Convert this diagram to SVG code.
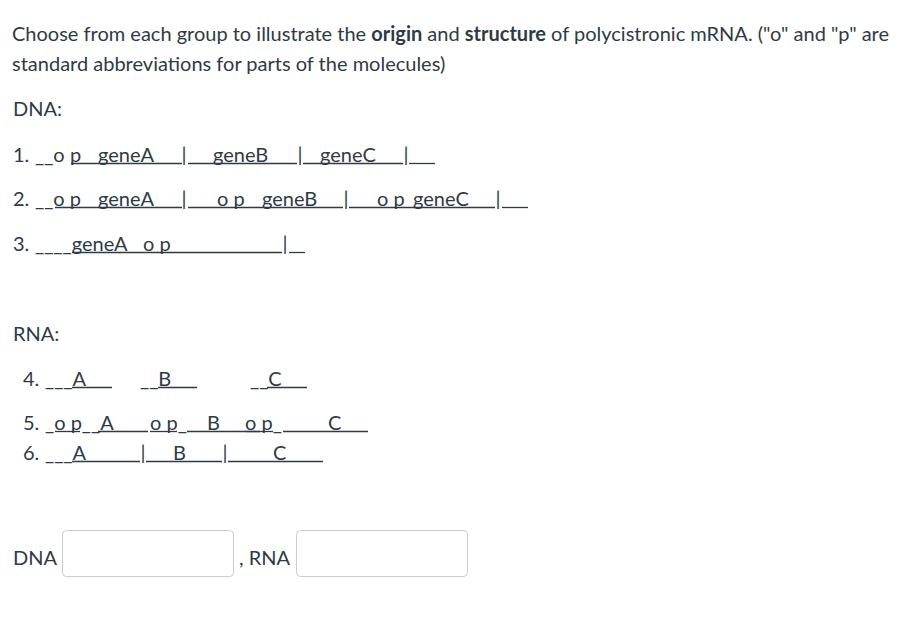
<svg xmlns="http://www.w3.org/2000/svg" width="911" height="623" viewBox="0 0 911 623">
<style>
text{font-family:Lato,"Liberation Sans",sans-serif;font-size:20px;fill:#2d3b45}
.b{font-weight:bold}
.bar{text-anchor:middle}
.ul line{stroke:#2d3b45;stroke-width:1.3}
.box{fill:#fff;stroke:#c7cdd1;stroke-width:1}
</style>
<rect width="911" height="623" fill="#fff"/>
<g id="instructions">
<text x="12" y="41">Choose from each group to illustrate the <tspan class="b">origin</tspan> and <tspan class="b">structure</tspan> of polycistronic mRNA. ("o" and "p" are</text>
<text x="12" y="71">standard abbreviations for parts of the molecules)</text>
</g>
<g id="dna-heading"><text x="13" y="116">DNA:</text></g>
<g id="dna-1">
<text x="13" y="162">1.</text><text x="35" y="162">__o</text><text x="70" y="162">p</text><text x="98" y="162">geneA</text>
<text class="bar" x="184" y="162">|</text><text x="213" y="162">geneB</text>
<text class="bar" x="300" y="162">|</text><text x="320" y="162">geneC</text>
<text class="bar" x="406" y="162">|</text>
<g class="ul"><line x1="71" y1="163.5" x2="182" y2="163.5"/><line x1="188" y1="163.5" x2="297" y2="163.5"/><line x1="303" y1="163.5" x2="403" y2="163.5"/><line x1="409" y1="163.5" x2="435" y2="163.5"/></g>
</g>
<g id="dna-2">
<text x="13" y="206">2.</text><text x="35" y="206">__o p</text><text x="98" y="206">geneA</text>
<text class="bar" x="184" y="206">|</text><text x="217" y="206">o p</text><text x="262" y="206">geneB</text>
<text class="bar" x="346" y="206">|</text><text x="377" y="206">o p</text><text x="413" y="206">geneC</text>
<text class="bar" x="498" y="206">|</text>
<g class="ul"><line x1="55" y1="207.5" x2="182" y2="207.5"/><line x1="188" y1="207.5" x2="343" y2="207.5"/><line x1="349" y1="207.5" x2="495" y2="207.5"/><line x1="502" y1="207.5" x2="528" y2="207.5"/></g>
</g>
<g id="dna-3">
<text x="13" y="251">3.</text><text x="35" y="251">____geneA</text><text x="143" y="251">o p</text>
<text class="bar" x="285" y="251">|</text>
<g class="ul"><line x1="72" y1="252.5" x2="282" y2="252.5"/><line x1="289" y1="252.5" x2="305" y2="252.5"/></g>
</g>
<g id="rna-heading"><text x="13" y="341">RNA:</text></g>
<g id="rna-4">
<text x="23" y="386">4.</text><text x="45" y="386">___A</text><text x="140" y="386">__B</text><text x="250" y="386">__C</text>
<g class="ul"><line x1="72" y1="387.5" x2="112" y2="387.5"/><line x1="158" y1="387.5" x2="197" y2="387.5"/><line x1="267" y1="387.5" x2="307" y2="387.5"/></g>
</g>
<g id="rna-5">
<text x="23" y="430">5.</text><text x="45" y="430">_o p__A</text><text x="150" y="430">o p_</text><text x="207" y="430">B</text><text x="245" y="430">o p_</text><text x="328" y="430">C</text>
<g class="ul"><line x1="55" y1="431.5" x2="80" y2="431.5"/><line x1="98" y1="431.5" x2="148" y2="431.5"/><line x1="150" y1="431.5" x2="177" y2="431.5"/><line x1="187" y1="431.5" x2="260" y2="431.5"/><line x1="245" y1="431.5" x2="273" y2="431.5"/><line x1="283" y1="431.5" x2="368" y2="431.5"/></g>
</g>
<g id="rna-6">
<text x="23" y="460">6.</text><text x="45" y="460">___A</text><text class="bar" x="143" y="460">|</text><text x="173" y="460">B</text><text class="bar" x="225" y="460">|</text><text x="273" y="460">C</text>
<g class="ul"><line x1="72" y1="461.5" x2="140" y2="461.5"/><line x1="146" y1="461.5" x2="222" y2="461.5"/><line x1="228" y1="461.5" x2="323" y2="461.5"/></g>
</g>
<g id="answer">
<text x="13" y="565">DNA</text>
<rect class="box" x="62.5" y="530.5" width="171" height="46" rx="4"/>
<text x="239" y="565">, RNA</text>
<rect class="box" x="296.5" y="530.5" width="171" height="46" rx="4"/>
</g>
</svg>
